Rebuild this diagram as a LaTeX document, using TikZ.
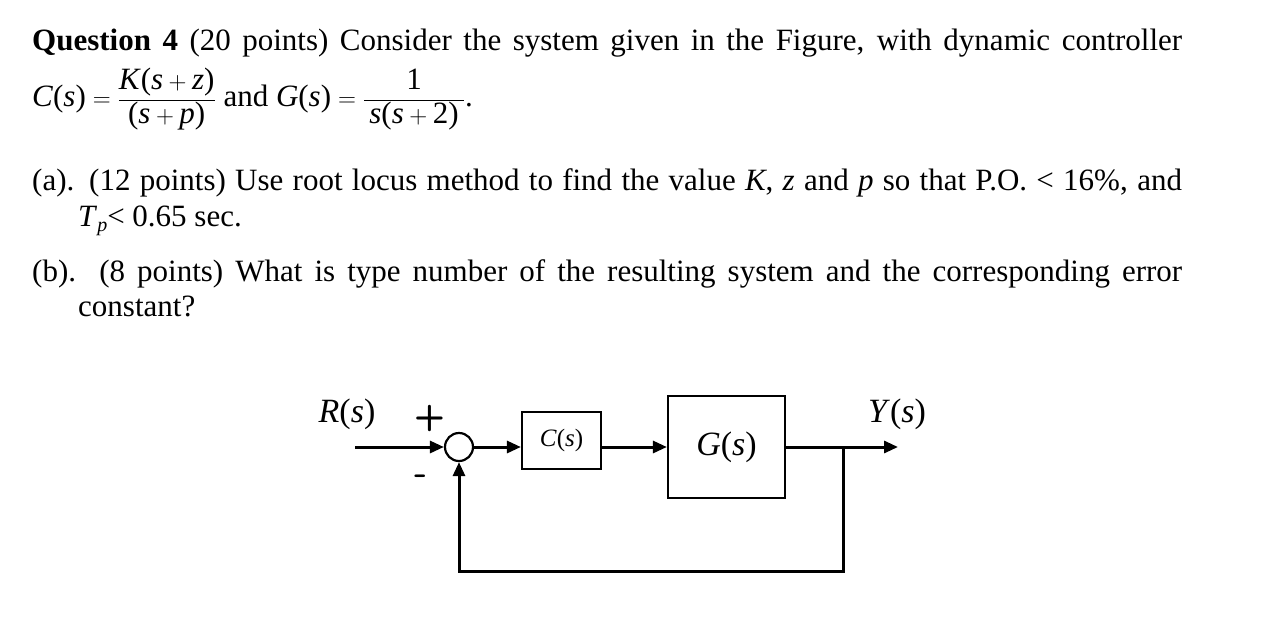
\documentclass[tikz,border=0pt]{standalone}
\usepackage{fontspec}
\setmainfont{Liberation Serif}
\usetikzlibrary{arrows.meta}
\newcommand{\iv}[1]{\mbox{\textit{#1}}}
\newcommand{\rv}[1]{\mbox{#1}}
\begin{document}
\begin{tikzpicture}[x=1pt,y=-1pt,
  txt/.style={anchor=base west,inner sep=0pt,font=\fontsize{31}{36}\selectfont},
  blk/.style={draw,line width=2.2pt,inner sep=0pt},
  sig/.style={line width=3pt,-{Triangle[length=14pt,width=12pt]}},
  wire/.style={line width=3pt}]
\useasboundingbox (0,0) rectangle (1278,622);
\node[txt] (l1) at (32,50) {\makebox[1150pt][s]{\textbf{Question 4} (20 points) Consider the system given in the Figure, with dynamic controller}};
\node[txt] (eq) at (32,106) {$\displaystyle \iv{C}\rv{(}\iv{s}\rv{)}=\frac{\iv{K}\rv{(}\iv{s}+\iv{z}\rv{)}}{\rv{(}\iv{s}+\iv{p}\rv{)}}$ and $\displaystyle \iv{G}\rv{(}\iv{s}\rv{)}=\frac{\hbox to 100pt{\hss\rv{1}\hss}}{\iv{s}\rv{(}\iv{s}+\rv{2}\rv{)}}$.};
\node[txt] (la) at (32,190) {\makebox[1150pt][s]{(a). (12 points) Use root locus method to find the value \textit{K}, \textit{z} and \textit{p} so that P.O. < 16\%, and}};
\node[txt] (la2) at (78,226) {\textit{T}\raisebox{-5pt}{\fontsize{20}{20}\selectfont\textit{p}}< 0.65 sec.};
\node[txt] (lb) at (32,281) {\makebox[1150pt][s]{(b). (8 points) What is type number of the resulting system and the corresponding error}};
\node[txt] (lb2) at (78,316) {constant?};
% diagram
\node[draw,circle,line width=2.2pt,minimum size=28pt,inner sep=0pt] (sum) at (459,447) {};
\node[blk,minimum width=79pt,minimum height=57pt] (C) at (561.5,440.5) {\fontsize{25}{28}\selectfont\textit{C}(\textit{s})};
\node[blk,minimum width=117pt,minimum height=102pt] (G) at (726.5,447) {\fontsize{34}{36}\selectfont\textit{G}(\textit{s})};
\coordinate (rin) at (355,447);
\coordinate (yout) at (898,447);
\coordinate (br) at (843,447);
\coordinate (bl) at (843,571);
\coordinate (cl) at (459,571);
\node[font=\fontsize{34}{36}\selectfont] (R) at (347,414) {\textit{R}(\textit{s})};
\node[font=\sffamily\bfseries\fontsize{36}{36}\selectfont] (plus) at (430,418) {+};
\node[font=\sffamily\bfseries\fontsize{36}{36}\selectfont] (minus) at (421,480) {-};
\node[font=\fontsize{34}{36}\selectfont] (Y) at (897,414) {\textit{Y}(\textit{s})};
\draw[sig] (rin) -- (sum.west);
\draw[sig] (sum.east) -- (C.west |- sum.east);
\draw[sig] (C.east |- sum.east) -- (G.west |- sum.east);
\draw[sig] (G.east |- sum.east) -- (yout);
\draw[sig] (br) -- (bl) -- (cl) -- (sum.south);
\end{tikzpicture}
\end{document}
